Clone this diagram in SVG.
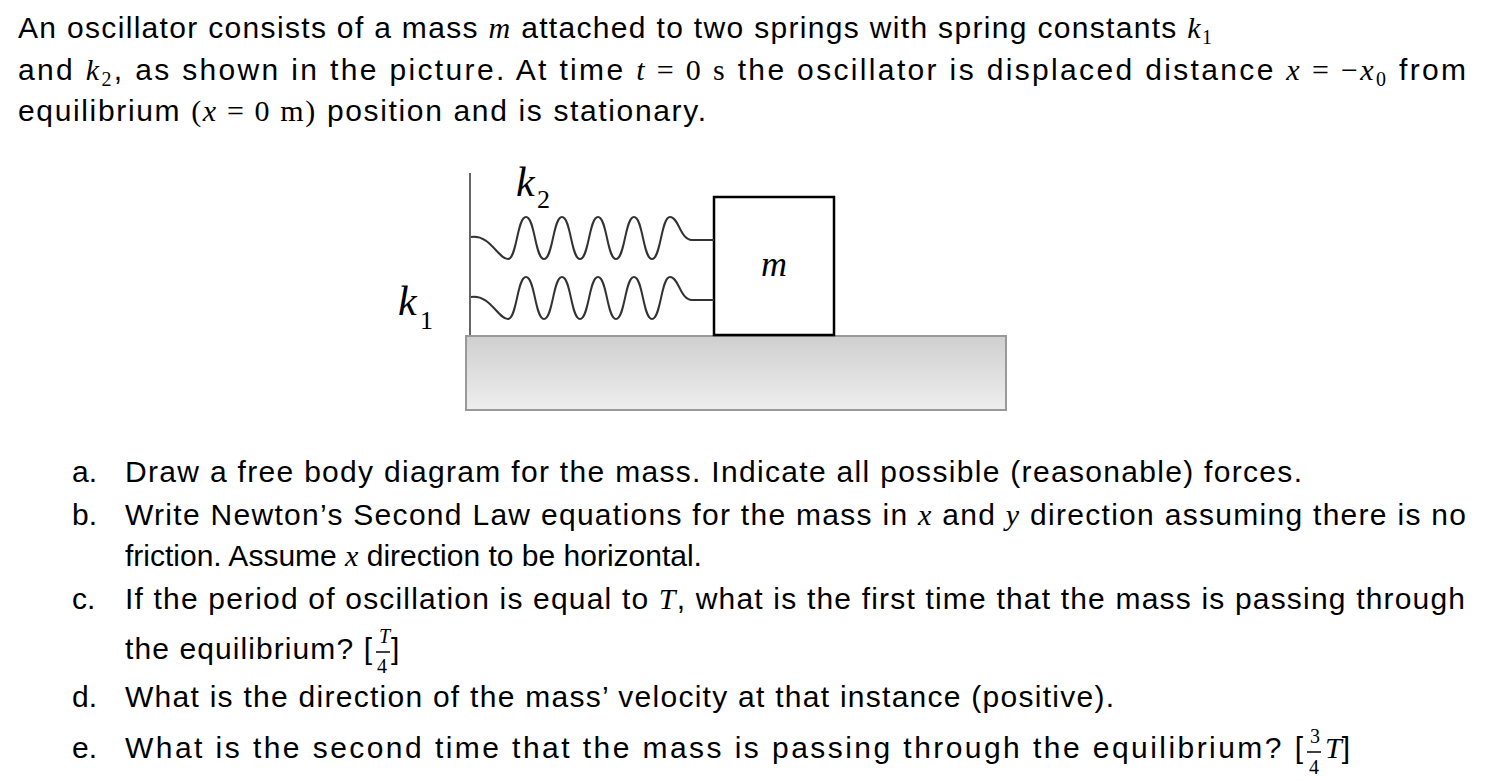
<svg xmlns="http://www.w3.org/2000/svg" width="1508" height="782" viewBox="0 0 1508 782">
<defs>
<style>
.t{font-family:"Liberation Sans",Arial,sans-serif;font-size:30px;fill:#000}
.m{font-family:"Liberation Serif","DejaVu Serif",serif;font-style:italic}
.r{font-family:"Liberation Serif","DejaVu Serif",serif}
.s{font-size:20px}
.sp{fill:none;stroke:#333;stroke-width:2}
</style>
<linearGradient id="g" x1="0" y1="0" x2="0" y2="1"><stop offset="0" stop-color="#cfcfcf"/><stop offset="1" stop-color="#eeeeee"/></linearGradient>
</defs>
<g id="text">
<text class="t" x="18" y="38" textLength="1194" lengthAdjust="spacing">An oscillator consists of a mass <tspan class="m">m</tspan> attached to two springs with spring constants <tspan class="m">k</tspan><tspan class="r s" dy="6">1</tspan></text>
<text class="t" x="18" y="80" textLength="1448" lengthAdjust="spacing">and <tspan class="m">k</tspan><tspan class="r s" dy="6">2</tspan><tspan dy="-6">, as shown in the picture. At time </tspan><tspan class="m">t</tspan><tspan class="r"> = 0 s</tspan> the oscillator is displaced distance <tspan class="m">x</tspan><tspan class="r"> = −</tspan><tspan class="m">x</tspan><tspan class="r s" dy="6">0</tspan><tspan dy="-6"> from</tspan></text>
<text class="t" x="18" y="121" textLength="688" lengthAdjust="spacing">equilibrium <tspan class="r">(</tspan><tspan class="m">x</tspan><tspan class="r"> = 0 m)</tspan> position and is stationary.</text>
<text class="t" x="72" y="482">a.</text>
<text class="t" x="125" y="482" textLength="1177" lengthAdjust="spacing">Draw a free body diagram for the mass. Indicate all possible (reasonable) forces.</text>
<text class="t" x="72" y="525">b.</text>
<text class="t" x="125" y="525" textLength="1341" lengthAdjust="spacing">Write Newton’s Second Law equations for the mass in <tspan class="m">x</tspan> and <tspan class="m">y</tspan> direction assuming there is no</text>
<text class="t" x="125" y="566">friction. Assume <tspan class="m">x</tspan> direction to be horizontal.</text>
<text class="t" x="72" y="609">c.</text>
<text class="t" x="125" y="609" textLength="1340" lengthAdjust="spacing">If the period of oscillation is equal to <tspan class="m">T</tspan>, what is the first time that the mass is passing through</text>
<text class="t" x="125" y="659" textLength="247" lengthAdjust="spacing">the equilibrium? [</text>
<text class="t m s" x="379" y="643">T</text>
<line x1="376" y1="652" x2="390" y2="652" stroke="#000" stroke-width="1.5"/>
<text class="t r s" x="377" y="673">4</text>
<text class="t" x="391" y="659">]</text>
<text class="t" x="72" y="707">d.</text>
<text class="t" x="125" y="707" textLength="989" lengthAdjust="spacing">What is the direction of the mass’ velocity at that instance (positive).</text>
<text class="t" x="72" y="758">e.</text>
<text class="t" x="125" y="758" textLength="1178" lengthAdjust="spacing">What is the second time that the mass is passing through the equilibrium? [</text>
<text class="t r s" x="1310" y="743">3</text>
<line x1="1307" y1="752" x2="1321" y2="752" stroke="#000" stroke-width="1.5"/>
<text class="t r s" x="1309" y="774">4</text>
<text class="t" x="1325" y="758"><tspan class="m">T</tspan>]</text>
</g>
<g id="floor"><rect x="466" y="336" width="540" height="74" fill="url(#g)" stroke="#999" stroke-width="2"/></g>
<g id="wall"><line x1="470" y1="173" x2="470" y2="335" stroke="#333" stroke-width="1.5"/></g>
<g id="mass"><rect x="714" y="197" width="120" height="138" fill="#fff" stroke="#000" stroke-width="2.5"/>
<text class="m" x="774" y="276" text-anchor="middle" style="font-size:36px">m</text></g>
<g id="labels">
<text class="m" x="516" y="196" style="font-size:42px">k</text><text class="r" x="537" y="208" style="font-size:26px">2</text>
<text class="m" x="398" y="315" style="font-size:42px">k</text><text class="r" x="420" y="329" style="font-size:26px">1</text>
</g>
<g id="connectors">
<path class="sp" d="M471,237 C490,234 498,259 508,259 C517,259 517,217 526,217 C535,217 535,259 544,259 C553,259 553,217 562,217 C571,217 571,259 580,259 C589,259 589,217 598,217 C607,217 607,259 616,259 C625,259 625,217 634,217 C643,217 643,259 652,259 C661,259 661,217 670,217 C679,217 680,240 692,240 L714,240"/>
<path class="sp" stroke-width="1.5" d="M471,297 C490,294 498,319 508,319 C517,319 517,277 526,277 C535,277 535,319 544,319 C553,319 553,277 562,277 C571,277 571,319 580,319 C589,319 589,277 598,277 C607,277 607,319 616,319 C625,319 625,277 634,277 C643,277 643,319 652,319 C661,319 661,277 670,277 C679,277 680,300 692,300 L714,300"/>
</g>
</svg>
